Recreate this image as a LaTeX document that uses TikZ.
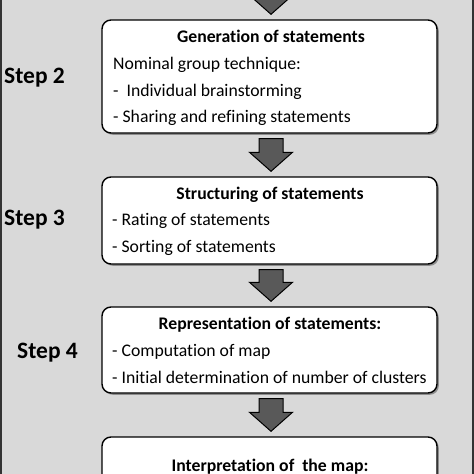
\documentclass[tikz,border=0pt]{standalone}
\usepackage{fontspec}
\setmainfont{Carlito}[Ligatures={TeX,NoCommon}]
\usetikzlibrary{shadows,calc}
\begin{document}
\begin{tikzpicture}[x=1pt,y=-1pt,
  box/.style={draw=black,line width=1.4pt,fill=white,rounded corners=9pt,
    drop shadow={shadow xshift=1.8pt,shadow yshift=-1.8pt,opacity=0.35,fill=black}},
  blockarrow/.style={draw=black,line width=1pt,fill=black!65,line join=miter},
  steplabel/.style={font=\fontsize{23.5}{26}\selectfont\bfseries,anchor=base west,inner sep=0pt},
  title/.style={font=\fontsize{17.7}{20}\selectfont\bfseries,anchor=base,inner sep=0pt},
  line/.style={font=\fontsize{17.7}{20}\selectfont,anchor=base west,inner sep=0pt}]
\clip (0,0) rectangle (474,474);
\useasboundingbox (0,0) rectangle (474,474);
\fill[black!15] (0,0) rectangle (474,474);
\fill[black!80] (0,0) rectangle (2.2,474);
\fill[black!80] (471.5,0) rectangle (474,474);
% boxes
\node[box,minimum width=335pt,minimum height=113pt] (b1) at (269.5,76.5) {};
\node[box,minimum width=335pt,minimum height=87pt] (b2) at (269.5,220.5) {};
\node[box,minimum width=335pt,minimum height=86pt] (b3) at (269.5,350) {};
\node[box,minimum width=335pt,minimum height=80pt] (b4) at (269.5,477) {};
\coordinate (b0) at (269.5,-20);
% block arrows between boxes
\foreach \f/\t in {b0/b1,b1/b2,b2/b3,b3/b4}{
  \draw[blockarrow] let \p1=($(\f.south)+(1.5,5)$), \p2=($(\t.north)+(1.5,-5)$) in
    (\x1-12pt,\y1) -- (\x1+12pt,\y1) -- (\x1+12pt,\y2+19pt) -- (\x1+21.5pt,\y2+19pt)
    -- (\x1,\y2) -- (\x1-21.5pt,\y2+19pt) -- (\x1-12pt,\y2+19pt) -- cycle;
}
% step labels
\node[steplabel] (s2) at (4,83) {Step 2};
\node[steplabel] (s3) at (4,225) {Step 3};
\node[steplabel] (s4) at (17,358) {Step 4};
% box 1 text
\node[title] (t1) at (271,42) {Generation of statements};
\node[line] (l11) at (113,69) {Nominal group technique:};
\node[line] (l12) at (113,96) {-\ \ Individual brainstorming};
\node[line] (l13) at (113,122) {- Sharing and refining statements};
% box 2 text
\node[title] (t2) at (270,199) {Structuring of statements};
\node[line] (l21) at (112,225) {- Rating of statements};
\node[line] (l22) at (112,252) {- Sorting of statements};
% box 3 text
\node[title] (t3) at (270,329) {Representation of statements:};
\node[line] (l31) at (112,356) {- Computation of map};
\node[line] (l32) at (112,383) {- Initial determination of number of clusters};
% box 4 text
\node[title] (t4) at (270,471) {Interpretation of\ \ the map:};
\end{tikzpicture}
\end{document}
